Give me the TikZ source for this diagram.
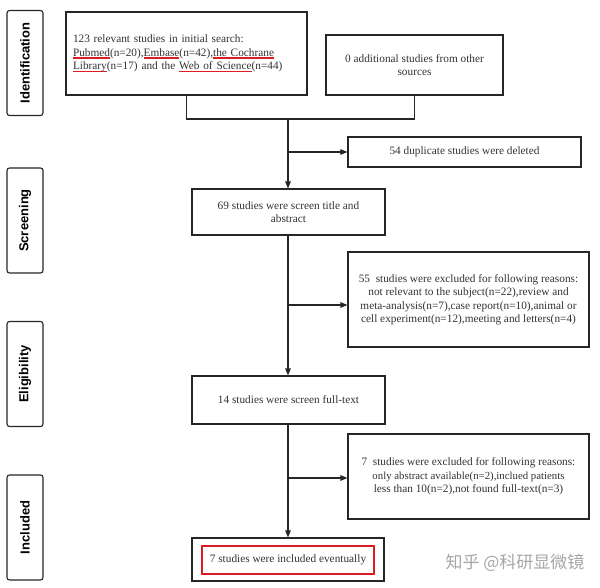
\documentclass[tikz,border=0pt]{standalone}
\usepackage{fontspec}
\setmainfont{Liberation Serif}
\newfontfamily\stagefont{Liberation Sans}
\newfontfamily\cjkfont{Noto Sans CJK SC}
\usetikzlibrary{arrows.meta}
\definecolor{ulred}{RGB}{222,28,36}
\newcommand\redline[1]{\leavevmode\setbox0\hbox{#1}\rlap{\textcolor{ulred}{\rule[-2.6pt]{\wd0}{1.5pt}}}\box0}

\tikzset{
	flowbox/.style={draw=black!85, line width=1.1pt, fill=white, align=center, text=black!80,
		font=\fontsize{11.3}{13.5}\selectfont, inner sep=2pt},
	stagebox/.style={draw=black!85, line width=1.1pt, rounded corners=2.5pt, rotate=90,
		minimum width=105pt, minimum height=36pt, font=\stagefont\bfseries\fontsize{13}{14}\selectfont},
	conn/.style={draw=black!85, line width=1.1pt},
	arr/.style={conn, -{Triangle[length=7pt,width=5.5pt]}}
}

\begin{document}
\begin{tikzpicture}[x=1pt, y=-1pt]
		%%%%% START %%%%%
		\useasboundingbox (0, 0) rectangle (600, 588);
		
		% stage labels on the left
		\node[stagebox] (ident) at (25, 63) {Identification};
		\node[stagebox] (screening) at (25, 220.5) {Screening};
		\node[stagebox] (eligibility) at (25, 374) {Eligibility};
		\node[stagebox] (included) at (25, 527.5) {Included};
		
		% identification
		\node[flowbox, minimum width=241pt, minimum height=83pt, text width=227pt, align=left] (search) at (186.5, 53.5)
			{123 relevant studies in initial search:\\
			\redline{Pubmed}(n=20),\redline{Embase}(n=42),\redline{the Cochrane}\\
			\redline{Library}(n=17) and the \redline{Web of Science}(n=44)};
		\node[flowbox, minimum width=177pt, minimum height=60pt] (other) at (414.5, 65)
			{0 additional studies from other\\sources};
		
		\coordinate (merge) at (288, 119);
		\draw[conn] (search.south) -- (search.south |- merge) -| (other.south);
		
		\node[flowbox, minimum width=233pt, minimum height=30pt] (dup) at (464.5, 152)
			{54 duplicate studies were deleted};
		
		% screening
		\node[flowbox, minimum width=193pt, minimum height=46pt] (title) at (288.5, 212)
			{69 studies were screen title and\\abstract};
		\node[flowbox, minimum width=241pt, minimum height=95pt] (excl1) at (468.5, 299.5)
			{55\ \ studies were excluded for following reasons:\\
			not relevant to the subject(n=22),review and\\
			meta-analysis(n=7),case report(n=10),animal or\\
			cell experiment(n=12),meeting and letters(n=4)};
		
		% eligibility
		\node[flowbox, minimum width=193pt, minimum height=48pt] (fulltext) at (288.5, 400)
			{14 studies were screen full-text};
		\node[flowbox, minimum width=241pt, minimum height=85pt] (excl2) at (468.5, 476.5)
			{7\ \ studies were excluded for following reasons:\\
			{\fontsize{10.8}{13}\selectfont only abstract available(n=2),inclued patients}\\
			less than 10(n=2),not found full-text(n=3)};
		
		% included
		\node[flowbox, minimum width=192pt, minimum height=43pt] (finalbox) at (288, 559.5) {};
		\node[flowbox, draw=ulred, minimum width=172pt, minimum height=28pt] (final) at (288, 560)
			{7 studies were included eventually};
		
		% connectors
		\draw[arr] (merge) -- (merge |- title.north);
		\draw[arr] (merge |- dup.west) -- (dup.west);
		\draw[arr] (merge |- title.south) -- (merge |- fulltext.north);
		\draw[arr] (merge |- 0, 305) -- (excl1.west |- 0, 305);
		\draw[arr] (merge |- fulltext.south) -- (merge |- finalbox.north);
		\draw[arr] (merge |- 0, 478) -- (excl2.west |- 0, 478);
		
		\node[text=black!35, font=\cjkfont\fontsize{17}{20}\selectfont] (mark) at (515, 563) {知乎 @科研显微镜};
		%%%%% END %%%%%
	\end{tikzpicture}
\end{document}
